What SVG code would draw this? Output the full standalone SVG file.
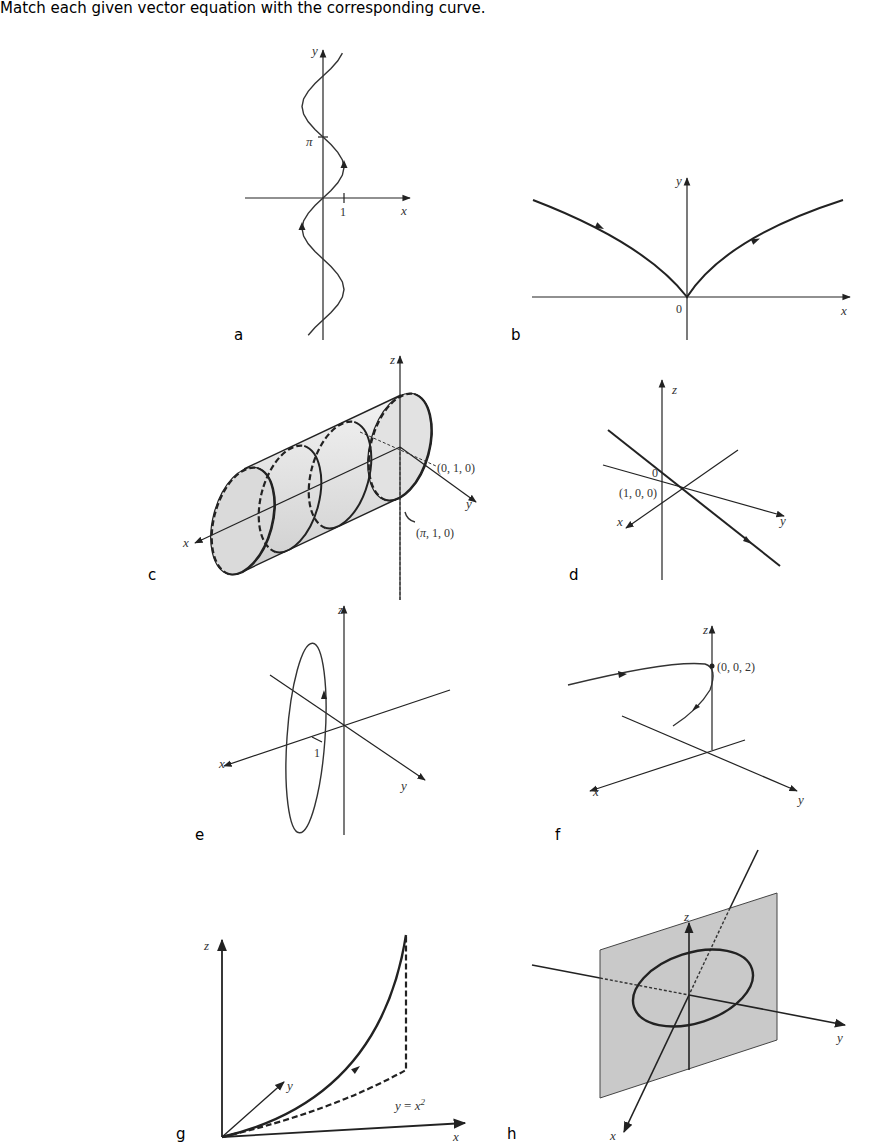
<svg xmlns="http://www.w3.org/2000/svg" width="881" height="1143" viewBox="0 0 881 1143">
<style>
.ax{stroke:#222;stroke-width:1.2;fill:none}
.cv{stroke:#333;stroke-width:1.4;fill:none}
.th{stroke:#222;stroke-width:2.4;fill:none}
.ds{stroke:#222;stroke-width:2.2;fill:none;stroke-dasharray:6 3}
.dt{stroke:#333;stroke-width:1;fill:none;stroke-dasharray:3 2}
.m{font-family:"Liberation Serif",serif;font-style:italic;font-size:13px;fill:#333}
.n{font-family:"Liberation Serif",serif;font-size:12px;fill:#333}
.lb{font-family:"DejaVu Sans",sans-serif;font-size:15px;fill:#000}
</style>
<defs>
<marker id="ar" viewBox="0 0 10 10" refX="9" refY="5" markerWidth="7" markerHeight="7" orient="auto-start-reverse"><path d="M0,1 L10,5 L0,9 z" fill="#222"/></marker>
<linearGradient id="cg" x1="0" y1="0" x2="0" y2="1"><stop offset="0" stop-color="#f2f2f2"/><stop offset="1" stop-color="#cfcfcf"/></linearGradient>
</defs>
<text x="0" y="13" class="lb">Match each given vector equation with the corresponding curve.</text>

<g id="a">
<line class="ax" x1="323" y1="340" x2="323" y2="50" marker-end="url(#ar)"/>
<line class="ax" x1="245" y1="198" x2="410" y2="198" marker-end="url(#ar)"/>
<line class="ax" x1="344" y1="193" x2="344" y2="203"/>
<line class="ax" x1="318" y1="137" x2="328" y2="137"/>
<polyline class="cv" points="308.2,335.3 315,327.6 323,320 331,312.4 337.8,304.8 342.4,297.1 344,289.5 342.4,281.9 337.8,274.3 331,266.6 323,259 315,251.4 308.2,243.8 303.6,236.1 302,228.5 303.6,220.9 308.2,213.3 315,205.6 323,198 331,190.4 337.8,182.8 342.4,175.1 344,167.5 342.4,159.9 337.8,152.3 331,144.6 323,137 315,129.4 308.2,121.8 303.6,114.1 302,106.5 303.6,98.9 308.2,91.3 315,83.6 323,76 331,68.4 337.8,60.8 342.4,53.1"/>
<path d="M344,160 l-3.5,8 l7,0 z" fill="#222"/>
<path d="M302,222 l-3.5,8 l7,0 z" fill="#222"/>
<text x="312" y="55" class="m">y</text>
<text x="306" y="146" class="m">π</text>
<text x="340" y="216" class="n">1</text>
<text x="401" y="215" class="m">x</text>
<text x="234" y="340" class="lb">a</text>
</g>

<g id="b">
<line class="ax" x1="532" y1="297" x2="850" y2="297" marker-end="url(#ar)"/>
<line class="ax" x1="687" y1="340" x2="687" y2="178" marker-end="url(#ar)"/>
<path class="th" style="stroke-width:2" d="M533,200 Q645,243 687,297 Q725,238 843,200"/>
<path d="M604,229 L597.3,222.3 L594.7,227.7 z" fill="#222"/>
<path d="M760,238.5 L753.2,244.7 L750.8,239.3 z" fill="#222"/>
<text x="676" y="185" class="m">y</text>
<text x="676" y="313" class="n">0</text>
<text x="841" y="315" class="m">x</text>
<text x="511" y="340" class="lb">b</text>
</g>

<g id="c">
<polygon points="244,469 401,395 399,498 242,572" fill="url(#cg)"/>
<ellipse cx="400" cy="447" rx="30" ry="55" transform="rotate(15 400 447)" fill="#e2e2e2" stroke="#222" stroke-width="1.2"/>
<ellipse cx="243" cy="521" rx="30" ry="55" transform="rotate(15 243 521)" fill="#dadada" stroke="#222" stroke-width="1.2"/>
<line class="ax" x1="244" y1="469" x2="401" y2="395" style="stroke-width:1.4"/>
<line class="ax" x1="242" y1="572" x2="399" y2="498" style="stroke-width:1.4"/>
<line class="ax" x1="400" y1="600" x2="400" y2="356" marker-end="url(#ar)"/>
<line class="dt" x1="400" y1="447" x2="400" y2="600"/>
<line class="ax" x1="400" y1="447" x2="195" y2="543" marker-end="url(#ar)"/>
<line class="ax" x1="400" y1="447" x2="476" y2="502" marker-end="url(#ar)"/>
<line class="dt" x1="360" y1="432" x2="436" y2="466"/>
<path class="th" style="stroke-width:2" d="M257.2,467.9 A30,55 15 0 1 228.8,574.1 M304.2,445.9 A30,55 15 0 1 275.8,552.1 M354.2,421.9 A30,55 15 0 1 325.8,528.1 M414.2,393.9 A30,55 15 0 1 385.8,500.1"/>
<path class="ds" d="M228.8,574.1 A30,55 15 0 1 257.2,467.9 M275.8,552.1 A30,55 15 0 1 304.2,445.9 M325.8,528.1 A30,55 15 0 1 354.2,421.9 M385.8,500.1 A30,55 15 0 1 414.2,393.9"/>
<path class="cv" d="M405,512 q2,8 10,10"/>
<text x="390" y="364" class="m">z</text>
<text x="437" y="472" class="n">(0, 1, 0)</text>
<text x="466" y="508" class="m">y</text>
<text x="416" y="537" class="n">(<tspan font-style="italic">π</tspan>, 1, 0)</text>
<text x="183" y="547" class="m">x</text>
<text x="148" y="580" class="lb">c</text>
</g>

<g id="d">
<line class="ax" x1="662" y1="580" x2="662" y2="380" marker-end="url(#ar)"/>
<line class="ax" x1="603" y1="465" x2="784" y2="516" marker-end="url(#ar)"/>
<line class="ax" x1="738" y1="450" x2="626" y2="528" marker-end="url(#ar)"/>
<line class="th" style="stroke-width:2" x1="608" y1="430" x2="780" y2="566"/>
<path d="M752,544 l-9,-3 l3,-5 z" fill="#222"/>
<text x="672" y="394" class="m">z</text>
<text x="652" y="477" class="n">0</text>
<text x="619" y="497" class="n">(1, 0, 0)</text>
<text x="617" y="526" class="m">x</text>
<text x="780" y="525" class="m">y</text>
<text x="569" y="580" class="lb">d</text>
</g>

<g id="e">
<line class="ax" x1="344" y1="835" x2="344" y2="606" marker-end="url(#ar)"/>
<line class="ax" x1="270" y1="675" x2="425" y2="780" marker-end="url(#ar)"/>
<line class="ax" x1="450" y1="690" x2="224" y2="766" marker-end="url(#ar)"/>
<ellipse class="cv" cx="306" cy="738" rx="19" ry="95" transform="rotate(4 306 738)"/>
<path d="M324,690 l-3,9 l6,0 z" fill="#222"/>
<line class="ax" x1="312" y1="737" x2="322" y2="742"/>
<text x="338" y="614" class="m">z</text>
<text x="314" y="757" class="n">1</text>
<text x="219" y="768" class="m">x</text>
<text x="401" y="790" class="m">y</text>
<text x="195" y="840" class="lb">e</text>
</g>

<g id="f">
<line class="ax" x1="712" y1="750" x2="712" y2="626" marker-end="url(#ar)"/>
<line class="ax" x1="622" y1="716" x2="797" y2="791" marker-end="url(#ar)"/>
<line class="ax" x1="745" y1="740" x2="590" y2="791" marker-end="url(#ar)"/>
<path class="cv" d="M568,685 Q670,660 705,664 Q718,668 710,690 Q698,710 673,726"/>
<path d="M627,674 l-9,-3 l1,7 z" fill="#222"/>
<path d="M700,707 l-8,4 l4,-7 z" fill="#222"/>
<circle cx="712" cy="666" r="2.5" fill="#222"/>
<text x="703" y="634" class="m">z</text>
<text x="717" y="671" class="n">(0, 0, 2)</text>
<text x="593" y="796" class="m">x</text>
<text x="798" y="804" class="m">y</text>
<text x="555" y="840" class="lb">f</text>
</g>

<g id="g">
<line class="ax" x1="222" y1="1137" x2="222" y2="940" marker-end="url(#ar)" style="stroke-width:1.8"/>
<line class="ax" x1="222" y1="1137" x2="465" y2="1123" marker-end="url(#ar)" style="stroke-width:1.8"/>
<line class="ax" x1="222" y1="1137" x2="284" y2="1082" marker-end="url(#ar)" style="stroke-width:1.4"/>
<path class="th" d="M222,1137 Q380,1100 406,935"/>
<path class="ds" d="M222,1137 Q330,1112 406,1070 L406,935"/>
<path d="M360,1066 L354.9,1074 L351.1,1069.3 z" fill="#222"/>
<text x="204" y="950" class="m">z</text>
<text x="287" y="1090" class="m">y</text>
<text x="395" y="1110" class="m">y<tspan font-style="normal"> = </tspan>x<tspan font-size="9" dy="-5">2</tspan></text>
<text x="453" y="1141" class="m">x</text>
<text x="176" y="1139" class="lb">g</text>
</g>

<g id="h">
<line class="ax" x1="532" y1="965" x2="600" y2="978" style="stroke-width:1.6"/>
<polygon points="600,950 777,893 777,1040 600,1098" fill="#c9c9c9" stroke="#444" stroke-width="1"/>
<line class="dt" x1="600" y1="978" x2="689" y2="995" style="stroke-width:1.4"/>
<line class="ax" x1="689" y1="995" x2="845" y2="1025" marker-end="url(#ar)" style="stroke-width:1.6"/>
<line class="ax" x1="689" y1="1070" x2="689" y2="923" marker-end="url(#ar)" style="stroke-width:1.6"/>
<line class="ax" x1="758" y1="850" x2="730" y2="908" style="stroke-width:1.6"/>
<line class="dt" x1="730" y1="908" x2="689" y2="995" style="stroke-width:1.4"/>
<line class="ax" x1="689" y1="995" x2="624" y2="1132" marker-end="url(#ar)" style="stroke-width:1.6"/>
<ellipse class="th" cx="693" cy="988" rx="62" ry="35" transform="rotate(-18 693 988)"/>
<text x="684" y="921" class="m">z</text>
<text x="837" y="1042" class="m">y</text>
<text x="610" y="1140" class="m">x</text>
<text x="507" y="1139" class="lb">h</text>
</g>
</svg>
